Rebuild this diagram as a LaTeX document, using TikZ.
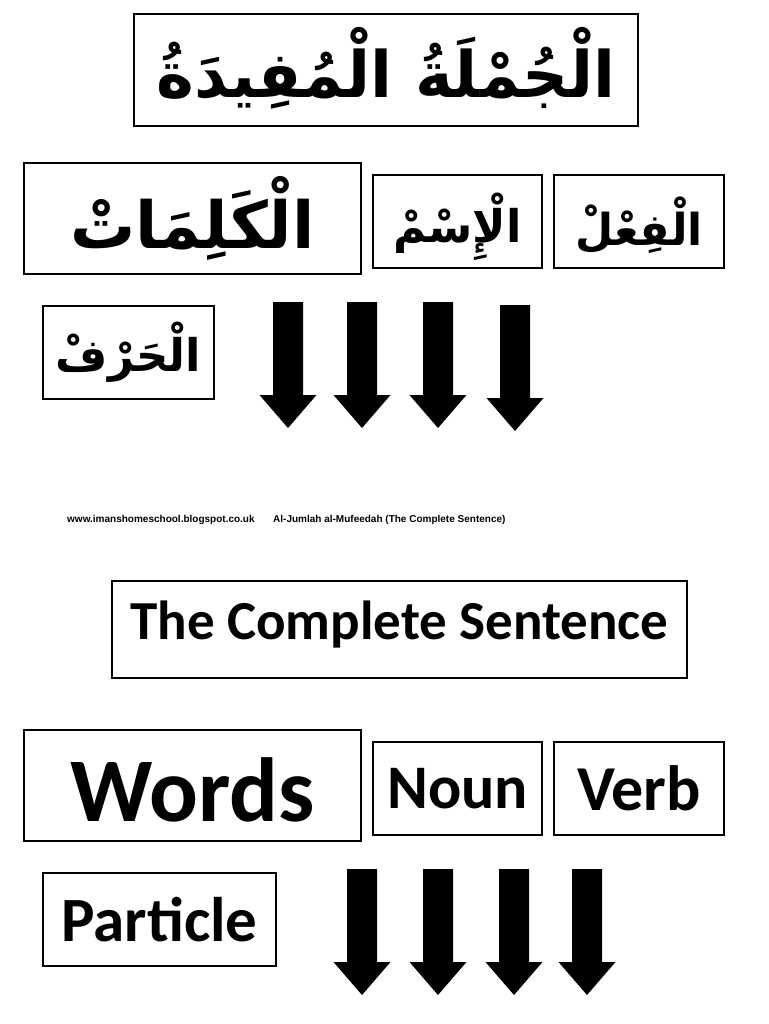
\documentclass[tikz,border=0pt]{standalone}
\usepackage{fontspec}
\setmainfont{Carlito}
\TeXXeTstate=1
\newfontfamily\arabicfont[Script=Arabic]{DejaVu Sans}
\newfontfamily\footfont{Liberation Sans}
\newcommand{\arsize}[1]{\fontsize{#1}{#1}\selectfont\arabicfont\bfseries}
\newcommand{\en}[2]{\fontsize{#1}{#1}\selectfont\bfseries #2}
\newcommand{\shiftv}[2]{\raisebox{#1}[\height][\depth]{#2}}
\newcommand{\darrow}[2]{\fill[black] (#1-15,#2) -- (#1+15,#2) -- (#1+15,#2+93) -- (#1+28.5,#2+93) -- (#1,#2+126) -- (#1-28.5,#2+93) -- (#1-15,#2+93) -- cycle;}
\begin{document}
\begin{tikzpicture}[x=1pt,y=-1pt,
  box/.style={draw=black, line width=1.6pt, inner sep=0pt, align=center},
  foot/.style={anchor=west, inner sep=0pt, font=\footfont\bfseries\fontsize{10}{11}\selectfont}]
\useasboundingbox[fill=white] (0,0) rectangle (768,1024);
% Arabic half
\node[box, minimum width=504pt, minimum height=112pt] (title) at (386,70) {\shiftv{2pt}{\arsize{64}\beginR الْجُمْلَةُ الْمُفِيدَةُ\endR}};
\node[box, minimum width=337pt, minimum height=111pt] (kalimat) at (192.5,218.5) {\arsize{65}\beginR الْكَلِمَاتْ\endR};
\node[box, minimum width=169pt, minimum height=93pt] (ism) at (457.5,221.5) {\shiftv{-5pt}{\arsize{45}\beginR الْإِسْمْ\endR}};
\node[box, minimum width=170pt, minimum height=93pt] (fil) at (639,221.5) {\shiftv{-4pt}{\arsize{44}\beginR الْفِعْلْ\endR}};
\node[box, minimum width=171pt, minimum height=93pt] (harf) at (128.5,352.5) {\arsize{45}\beginR الْحَرْفْ\endR};
\darrow{288}{302}
\darrow{362}{302}
\darrow{438}{302}
\darrow{515}{305}
% footer
\node[foot] (site) at (67,520) {www.imanshomeschool.blogspot.co.uk};
\node[foot] (caption) at (273,520) {Al-Jumlah al-Mufeedah (The Complete Sentence)};
% English half
\node[box, minimum width=575pt, minimum height=97pt] (complete) at (399.5,629.5) {\shiftv{5pt}{\en{55}{The Complete Sentence}}};
\node[box, minimum width=337pt, minimum height=111pt] (words) at (192.5,785.5) {\shiftv{-4pt}{\en{91}{Words}}};
\node[box, minimum width=169pt, minimum height=93pt] (noun) at (457.5,788.5) {\en{62}{Noun}};
\node[box, minimum width=170pt, minimum height=93pt] (verb) at (639,788.5) {\en{64}{Verb}};
\node[box, minimum width=233pt, minimum height=93pt] (particle) at (159.5,919.5) {\en{63}{Particle}};
\darrow{362}{869}
\darrow{438}{869}
\darrow{514}{869}
\darrow{587}{869}
\end{tikzpicture}
\end{document}
